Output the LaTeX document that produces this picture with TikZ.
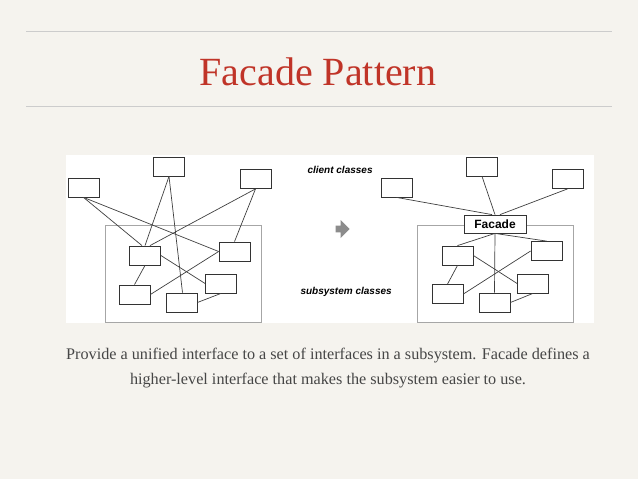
\documentclass[tikz,border=0pt]{standalone}
\usepackage{fontspec}
\setmainfont{Liberation Serif}
\newfontfamily\hel{Liberation Sans}
\usetikzlibrary{shapes.arrows}
\definecolor{bg}{RGB}{245,243,238}
\definecolor{ttl}{RGB}{192,52,40}
\definecolor{txt}{RGB}{70,70,70}
\begin{document}
\begin{tikzpicture}[x=1pt,y=-1pt,
  cls/.style={draw=black!80,fill=white,line width=0.8pt,minimum width=31pt,minimum height=19pt,inner sep=0pt},
  ln/.style={draw=black!75,line width=0.7pt},
  frm/.style={draw=black!35,line width=0.6pt},
  lbl/.style={font=\hel\bfseries\itshape\fontsize{10}{12}\selectfont,anchor=west}]
\fill[bg] (0,0) rectangle (638,479);
\useasboundingbox (0,0) rectangle (638,479);
\draw[black!20,line width=0.5pt] (26,31) -- (612,31) (26,106) -- (612,106);
\node[ttl,font=\fontsize{40}{44}\selectfont] (title) at (318,72) {Facade Pattern};
\fill[white] (66,155) rectangle (594,323);
% left
\draw[frm] (105,225) rectangle (261,322);
\node[cls] (A) at (83.5,187.5) {};
\node[cls] (B) at (169,166.5) {};
\node[cls] (C) at (255.5,179) {};
\node[cls] (D) at (145,255.5) {};
\node[cls] (E) at (234.5,251.5) {};
\node[cls] (F) at (134.5,294.5) {};
\node[cls] (G) at (181.5,302.5) {};
\node[cls] (H) at (221,283.5) {};
\draw[ln] (A.south) -- ([xshift=-3pt]D.north);
\draw[ln] (A.south) -- (E.west);
\draw[ln] (B.south) -- (D.north);
\draw[ln] (B.south) -- ([xshift=1pt]G.north);
\draw[ln] (C.south) -- ([xshift=5pt]D.north);
\draw[ln] (C.south) -- (E.north);
\draw[ln] (D.south) -- (F.north);
\draw[ln] (D.east) -- (H.west);
\draw[ln] (E.west) -- (F.east);
\draw[ln] (H.south) -- (G.east);
% arrow
\node[single arrow,fill=black!45,minimum width=18pt,single arrow head extend=2pt,minimum height=14pt,inner sep=1pt] (arr) at (341,229) {};
\node[lbl] (cl) at (304,170) {client classes};
\node[lbl] (sc) at (297,292) {subsystem classes};
% right
\draw[frm] (417,225) rectangle (573,322);
\node[cls] (a) at (396.5,187.5) {};
\node[cls] (b) at (482,166.5) {};
\node[cls] (c) at (567.5,179) {};
\node[cls,minimum width=62pt,minimum height=18pt,font=\hel\bfseries\fontsize{12}{14}\selectfont] (fa) at (495,224) {Facade};
\node[cls] (d) at (457.5,255.5) {};
\node[cls] (e) at (546.5,251) {};
\node[cls] (f) at (447.5,294) {};
\node[cls] (g) at (494.5,302.5) {};
\node[cls] (h) at (533,283.5) {};
\draw[ln] (a.south) -- ([xshift=-3pt]fa.north);
\draw[ln] (b.south) -- (fa.north);
\draw[ln] (c.south) -- ([xshift=5pt]fa.north);
\draw[ln] (fa.south) -- (d.north);
\draw[ln] (fa.south) -- (e.north);
\draw[ln] (fa.south) -- (g.north);
\draw[ln] (d.south) -- (f.north);
\draw[ln] (d.east) -- (h.west);
\draw[ln] (e.west) -- (f.east);
\draw[ln] (h.south) -- (g.east);
\node[txt,font=\fontsize{16.2}{25}\selectfont,align=center] (body) at (328,368) {Provide a unified interface to a set of interfaces in a subsystem. Facade defines a\\higher-level interface that makes the subsystem easier to use.};
\end{tikzpicture}
\end{document}
